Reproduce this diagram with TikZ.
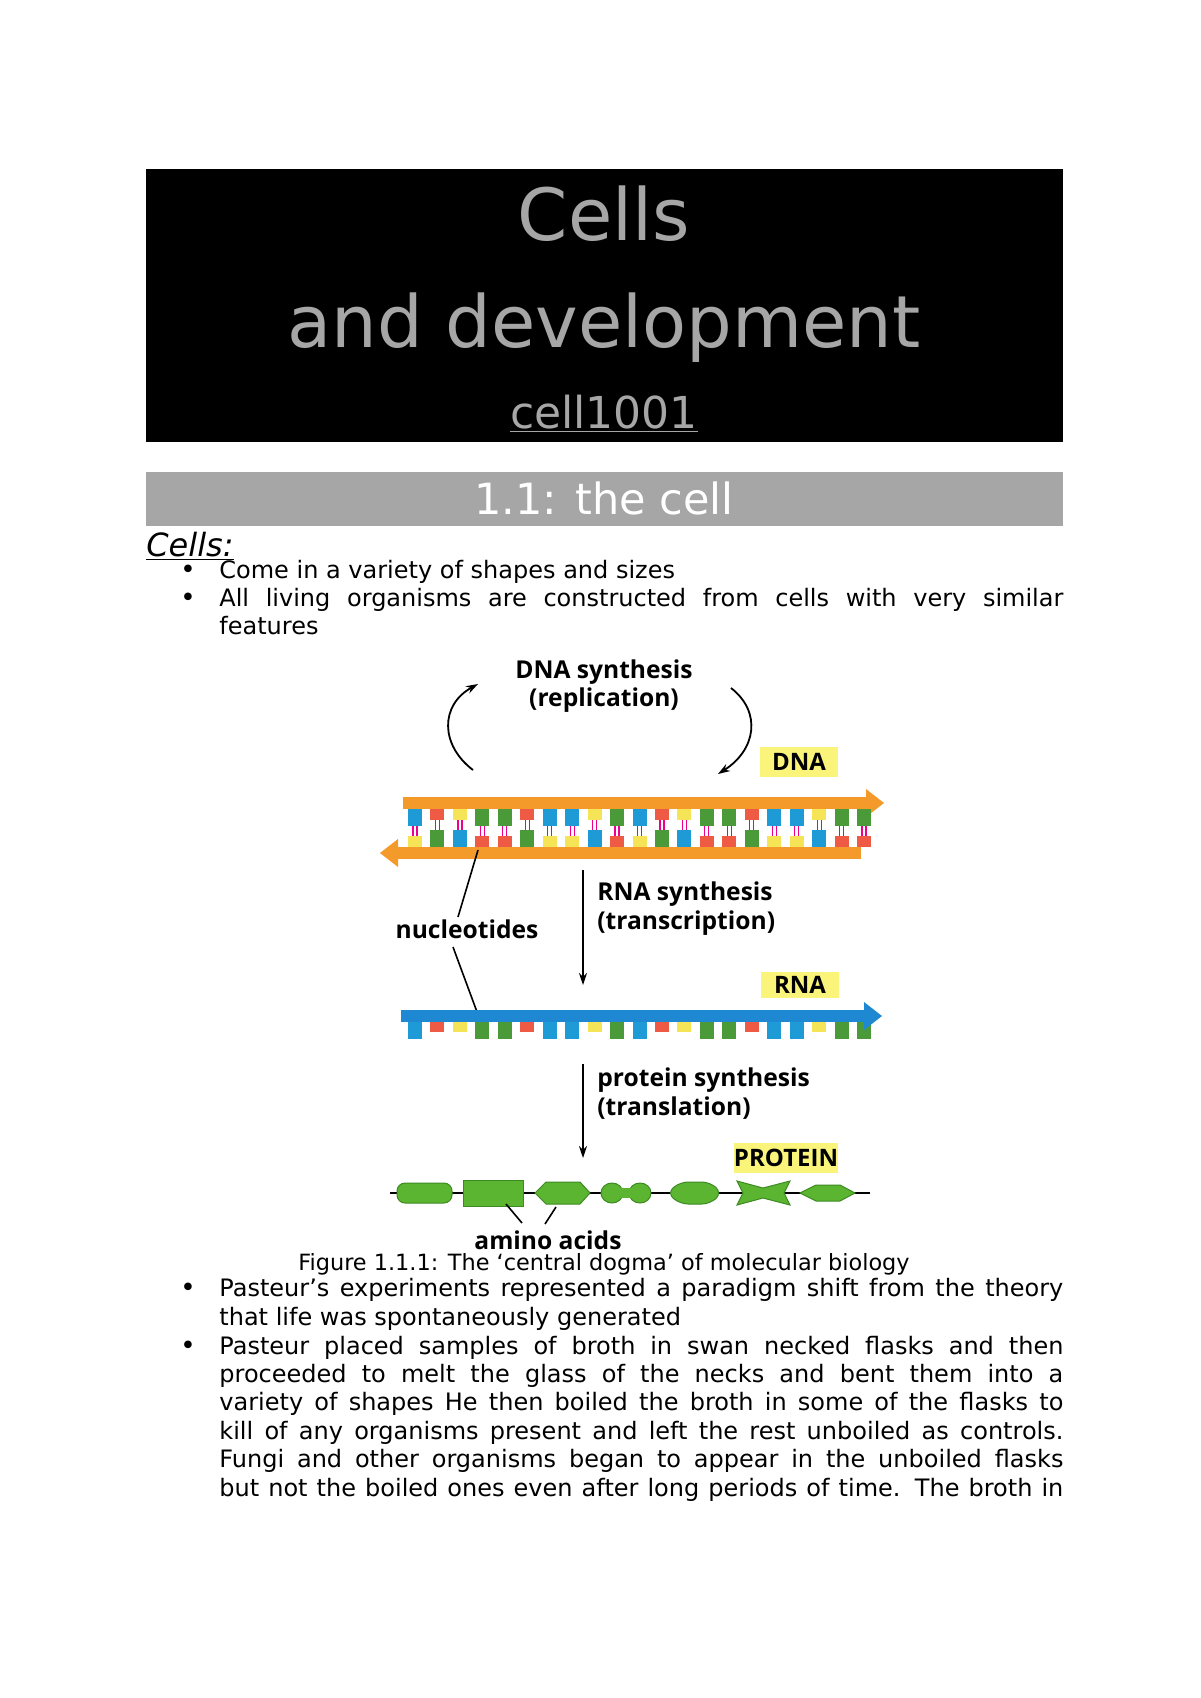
\documentclass[tikz,border=0pt]{standalone}
\usepackage{fontspec}
\setmainfont{DejaVu Sans}
\newfontfamily\figf{Open Sans}
\usetikzlibrary{arrows.meta}
\definecolor{tgray}{HTML}{A6A6A6}
\definecolor{cB}{HTML}{1E9AD6}
\definecolor{cR}{HTML}{EE5A44}
\definecolor{cY}{HTML}{F5E556}
\definecolor{cG}{HTML}{4A9A3A}
\definecolor{orng}{HTML}{F39A2A}
\definecolor{blu}{HTML}{1E88D2}
\definecolor{pgreen}{HTML}{5CB531}
\definecolor{dgreen}{HTML}{3D8A22}
\definecolor{lbl}{HTML}{FAF57A}
\newcommand\jline[1]{\hbox to 422pt{\spaceskip=0.32em plus 1fil\relax #1}}
\tikzset{
 body/.style={anchor=base west,inner sep=0pt,font=\fontsize{12pt}{14pt}\selectfont},
 bul/.style={anchor=base,inner sep=0pt,font=\fontsize{13pt}{14pt}\selectfont},
 ftxt/.style={anchor=base west,inner sep=0pt,align=left,font=\figf\bfseries\fontsize{12.3pt}{14pt}\selectfont},
 lab/.style={fill=lbl,inner sep=0pt,font=\figf\bfseries\fontsize{12pt}{14pt}\selectfont},
 conn/.style={line width=0.9pt,-{Stealth[length=6pt,width=4pt]}},
 pline/.style={line width=0.8pt},
 aa/.style={fill=pgreen,draw=dgreen,line width=0.5pt}
}
\begin{document}
\begin{tikzpicture}[x=0.5pt,y=-0.5pt]
\useasboundingbox (0,0) rectangle (1200,1698);
\fill[white] (0,0) rectangle (1200,1698);
% title block
\fill[black] (146,169) rectangle (1063,442);
\node[anchor=base,text=tgray,font=\fontsize{36pt}{40pt}\selectfont] (t1) at (604,240) {Cells};
\node[anchor=base,text=tgray,font=\fontsize{36pt}{40pt}\selectfont] (t2) at (604,347) {and development};
\node[anchor=base,text=tgray,font=\fontsize{22pt}{26pt}\selectfont] (t3) at (604,428) {\underline{cell1001}};
\fill[tgray] (146,472) rectangle (1063,526);
\node[anchor=base,text=white,font=\fontsize{21.5pt}{26pt}\selectfont] (h1) at (604,514) {1.1: the cell};
\node[anchor=base west,inner sep=0pt,font=\itshape\fontsize{16pt}{18pt}\selectfont] (cl) at (146,556) {\underline{Cells:}};
% bullets
\node[bul] (b1) at (188,578) {•};
\node[body] (l1) at (219,578) {Come in a variety of shapes and sizes};
\node[bul] (b2) at (188,606) {•};
\node[body] (l2) at (219,606) {\jline{All living organisms are constructed from cells with very similar}};
\node[body] (l3) at (219,634) {features};
% figure
\node[ftxt,anchor=base] (ds) at (604,678) {DNA synthesis};
\node[ftxt,anchor=base] (dr) at (604,706) {(replication)};
\coordinate (la) at (473,770); \coordinate (lb) at (478,684);
\coordinate (ra) at (731,688); \coordinate (rb) at (718,774);
\draw[conn] (la) .. controls (440,745) and (440,705) .. (lb);
\draw[conn] (ra) .. controls (762,712) and (756,750) .. (rb);
\node[lab,minimum width=39pt,minimum height=15pt] (dna) at (799,762) {DNA};
% DNA strands
\fill[orng] (403,797) rectangle (868,809);
\fill[orng] (866,789) -- (884,803) -- (866,817) -- cycle;
\fill[orng] (396,847) rectangle (861,859);
\fill[orng] (398,839) -- (380,853) -- (398,867) -- cycle;
\foreach \c/\h/\d/\k [count=\i from 0] in {cB/826/cY/836,cR/820/cG/830,cY/820/cB/830,cG/826/cR/836,cG/826/cR/836,cR/820/cG/830,cB/826/cY/836,cB/826/cY/836,cY/820/cB/830,cG/826/cR/836,cB/826/cY/836,cR/820/cG/830,cY/820/cB/830,cG/826/cR/836,cG/826/cR/836,cR/820/cG/830,cB/826/cY/836,cB/826/cY/836,cY/820/cB/830,cG/826/cR/836,cG/826/cR/836}{
  \pgfmathsetmacro\xx{408+\i*22.45}
  \draw[magenta,line width=0.6pt] (\xx+5,818) -- (\xx+5,838) (\xx+9,818) -- (\xx+9,838);
  \fill[\c] (\xx,809) rectangle (\xx+14,\h);
  \fill[\d] (\xx,\k) rectangle (\xx+14,847);
}
\node[ftxt,anchor=base] (nuc) at (467,938) {nucleotides};
\coordinate (n1) at (478,850); \coordinate (n2) at (458,917);
\coordinate (n3) at (453,947); \coordinate (n4) at (480,1020);
\draw[pline] (n1) -- (n2); \draw[pline] (n3) -- (n4);
\coordinate (a1s) at (583,870); \coordinate (a1e) at (583,985);
\draw[conn] (a1s) -- (a1e);
\node[ftxt] (rs) at (597,900) {RNA synthesis};
\node[ftxt] (rt) at (597,929) {(transcription)};
\node[lab,minimum width=39pt,minimum height=13pt] (rna) at (800,985) {RNA};
% RNA strand
\foreach \c/\h [count=\i from 0] in {cB/1039,cR/1032,cY/1032,cG/1039,cG/1039,cR/1032,cB/1039,cB/1039,cY/1032,cG/1039,cB/1039,cR/1032,cY/1032,cG/1039,cG/1039,cR/1032,cB/1039,cB/1039,cY/1032,cG/1039,cG/1039}{
  \pgfmathsetmacro\xx{408+\i*22.45}
  \fill[\c] (\xx,1018) rectangle (\xx+14,\h);
}
\fill[blu] (401,1010) rectangle (866,1022);
\fill[blu] (864,1002) -- (882,1016) -- (864,1030) -- cycle;
\coordinate (a2s) at (583,1064); \coordinate (a2e) at (583,1158);
\draw[conn] (a2s) -- (a2e);
\node[ftxt] (ps) at (597,1086) {protein synthesis};
\node[ftxt] (pt) at (597,1115) {(translation)};
\node[lab,minimum width=48pt,minimum height=15pt] (prot) at (786,1158) {PROTEIN};
% protein
\coordinate (pl) at (390,1193); \coordinate (pr) at (870,1193);
\draw[line width=1pt] (pl) -- (pr);
\draw[aa,rounded corners=4pt] (397,1183) rectangle (452,1203);
\draw[aa] (463,1180) rectangle (523,1206);
\draw[aa] (535,1193) -- (546,1182) -- (580,1182) -- (590,1193) -- (580,1204) -- (546,1204) -- cycle;
\draw[aa] (612,1193) ellipse (11 and 10);
\draw[aa] (640,1193) ellipse (11 and 10);
\fill[pgreen] (612,1188) rectangle (640,1198);
\draw[aa,rounded corners=4pt] (667,1193) -- (680,1182) -- (710,1182) -- (722,1193) -- (710,1204) -- (680,1204) -- cycle;
\draw[aa] (737,1181) -- (763,1188) -- (790,1181) -- (784,1193) -- (790,1205) -- (763,1198) -- (737,1205) -- (743,1193) -- cycle;
\draw[aa] (800,1193) -- (816,1185) -- (840,1185) -- (855,1193) -- (840,1201) -- (816,1201) -- cycle;
\coordinate (m1) at (506,1204); \coordinate (m2) at (522,1223);
\coordinate (m3) at (556,1207); \coordinate (m4) at (545,1224);
\draw[pline] (m1) -- (m2); \draw[pline] (m3) -- (m4);
\node[ftxt,anchor=base] (amino) at (548,1249) {amino acids};
\node[anchor=base,inner sep=0pt,font=\fontsize{11.2pt}{12pt}\selectfont] (cap) at (604,1270) {Figure 1.1.1: The ‘central dogma’ of molecular biology};
% lower bullets
\node[bul] (b3) at (188,1296) {•};
\node[body] (p1) at (219,1296) {\jline{Pasteur’s experiments represented a paradigm shift from the theory}};
\node[body] (p2) at (219,1325) {that life was spontaneously generated};
\node[bul] (b4) at (188,1354) {•};
\node[body] (q1) at (219,1354) {\jline{Pasteur placed samples of broth in swan necked flasks and then}};
\node[body] (q2) at (219,1382) {\jline{proceeded to melt the glass of the necks and bent them into a}};
\node[body] (q3) at (219,1410) {\jline{variety of shapes He then boiled the broth in some of the flasks to}};
\node[body] (q4) at (219,1439) {\jline{kill of any organisms present and left the rest unboiled as controls.}};
\node[body] (q5) at (219,1467) {\jline{Fungi and other organisms began to appear in the unboiled flasks}};
\node[body] (q6) at (219,1496) {\jline{but not the boiled ones even after long periods of time. The broth in}};
\end{tikzpicture}
\end{document}
